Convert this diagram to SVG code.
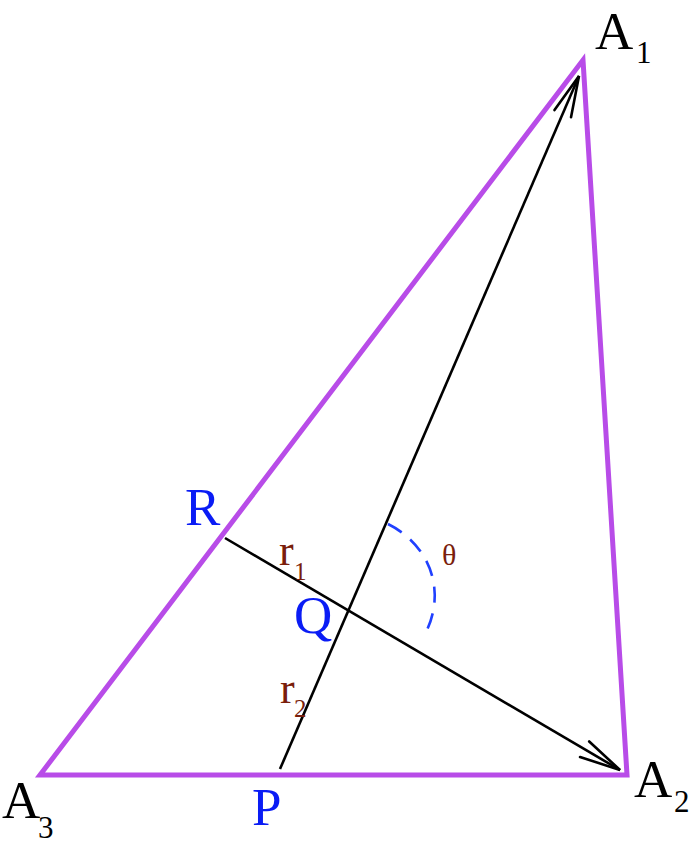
<svg xmlns="http://www.w3.org/2000/svg" width="700" height="852" viewBox="0 0 700 852">
<style>
.tri{fill:none;stroke:#b84ce8;stroke-width:5;stroke-linejoin:miter}
.ln{fill:none;stroke:#000;stroke-width:2.6}
.arc{fill:none;stroke:#2040ff;stroke-width:2.6;stroke-dasharray:16 11}
.big{font-family:"Liberation Serif",serif;font-size:53px;fill:#000}
.sub{font-family:"Liberation Serif",serif;font-size:31px;fill:#000}
.pt{font-family:"Liberation Serif",serif;font-size:53px;fill:#0a1cf5}
.rl{font-family:"Liberation Serif",serif;font-size:44px;fill:#7a1e0c}
.rs{font-family:"Liberation Serif",serif;font-size:25px;fill:#7a1e0c}
</style>
<defs>
<marker id="arr" markerUnits="userSpaceOnUse" markerWidth="60" markerHeight="40" refX="0" refY="0" viewBox="-45 -20 50 40" orient="auto" overflow="visible">
<path d="M-41,-9 L0,0 L-41,9" fill="none" stroke="#000" stroke-width="2.6" stroke-linecap="round" stroke-linejoin="miter"/>
</marker>
</defs>
<g id="triangle">
<path class="tri" d="M583,60 L627,775 L40,775 Z"/>
</g>
<g id="connectors">
<line class="ln" x1="280" y1="769" x2="579" y2="76" marker-end="url(#arr)"/>
<line class="ln" x1="225" y1="538" x2="620" y2="770" marker-end="url(#arr)"/>
<path class="arc" d="M388,524 C430,545 448,592 424,636"/>
</g>
<g id="A1"><text class="big" x="595" y="49">A</text><text class="sub" x="636" y="63">1</text></g>
<g id="A2"><text class="big" x="634" y="797">A</text><text class="sub" x="674" y="812">2</text></g>
<g id="A3"><text class="big" x="2" y="818">A</text><text class="sub" x="38" y="838">3</text></g>
<g id="R"><text class="pt" x="185" y="525">R</text></g>
<g id="Q"><text class="pt" x="294" y="633">Q</text></g>
<g id="P"><text class="pt" x="252" y="825">P</text></g>
<g id="r1"><text class="rl" x="279" y="565">r</text><text class="rs" x="294" y="580">1</text></g>
<g id="r2"><text class="rl" x="280" y="703">r</text><text class="rs" x="294" y="717">2</text></g>
<g id="theta"><text class="rl" x="442" y="565" style="font-size:30px">θ</text></g>
</svg>
